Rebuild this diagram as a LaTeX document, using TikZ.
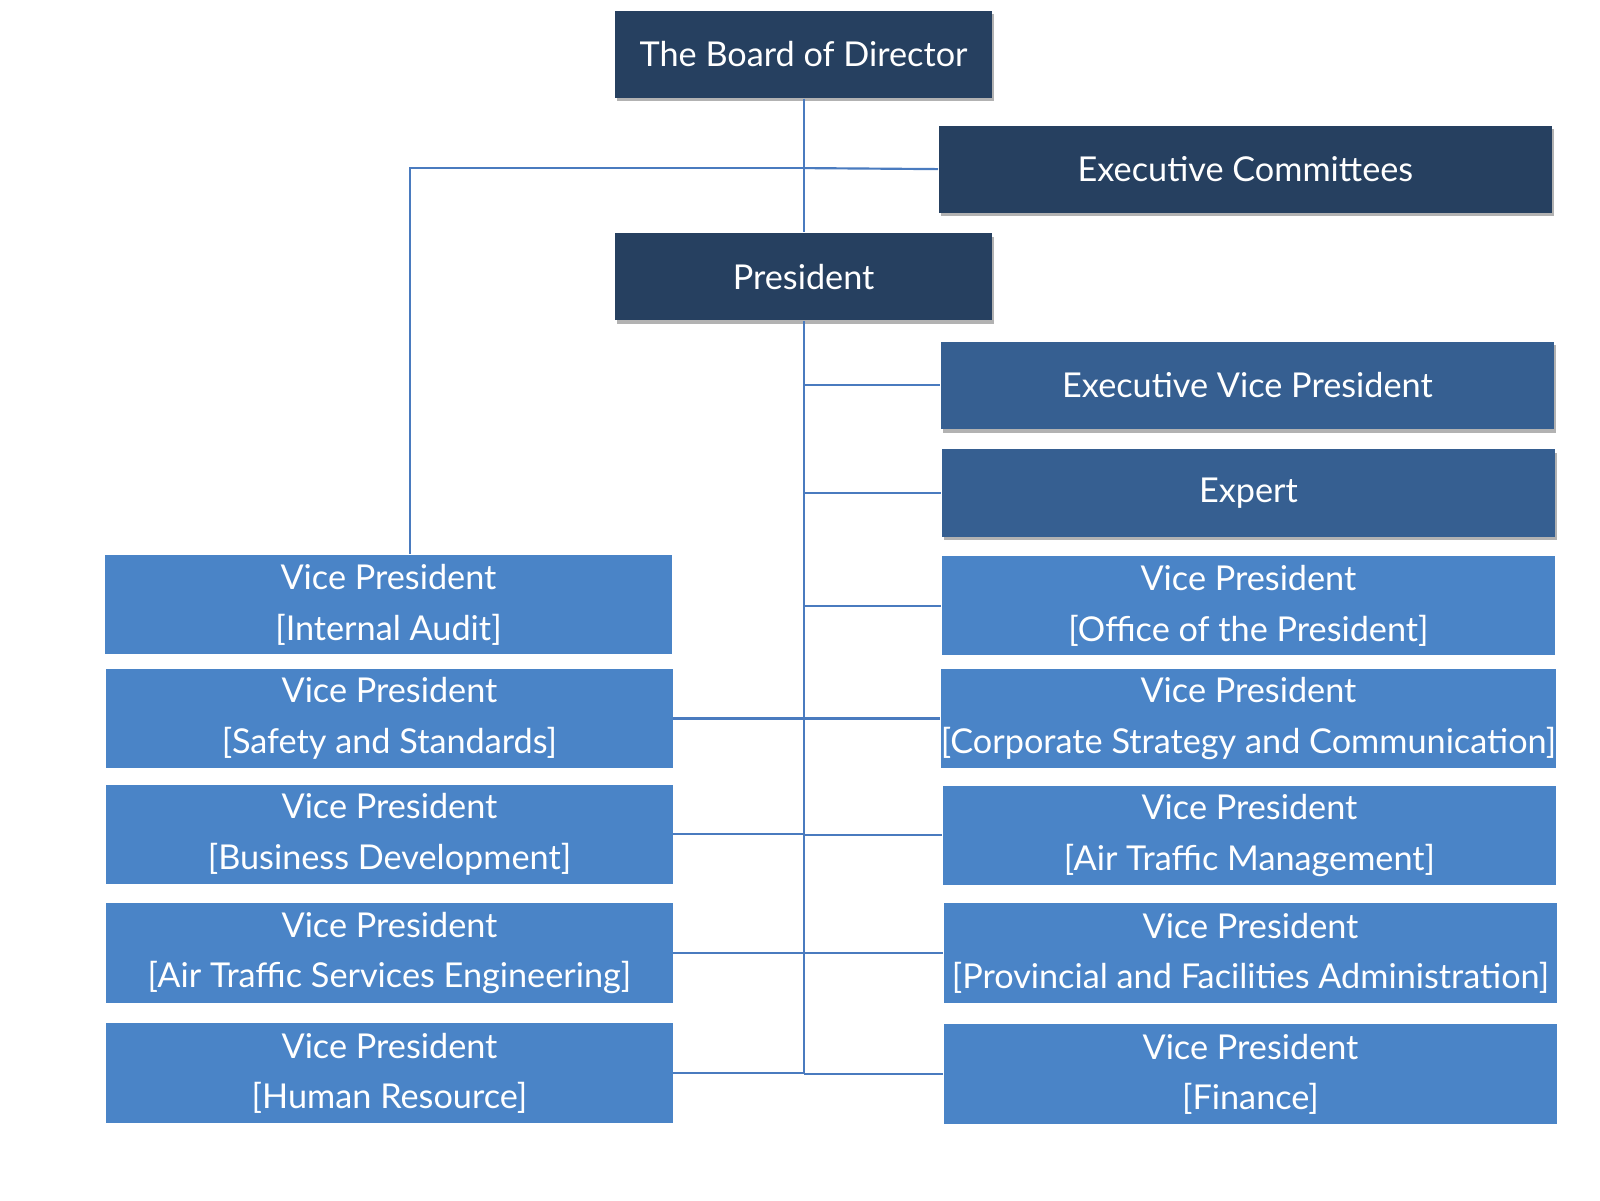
\documentclass[tikz,border=0pt]{standalone}
\usepackage{fontspec}
\setmainfont{Lato}
\usetikzlibrary{positioning}
\definecolor{darkblue}{RGB}{38,64,96}
\definecolor{midblue}{RGB}{54,95,145}
\definecolor{lightblue}{RGB}{74,132,199}
\definecolor{linkblue}{RGB}{74,123,191}
\begin{document}
\begin{tikzpicture}[
    x=0.01cm, y=-0.01cm,
    box/.style={rectangle, text=white, inner sep=0pt, align=center, font=\fontsize{9.5}{14}\selectfont},
    shadowbox/.style={box, append after command={}, drop/.style={}},
    link/.style={draw=linkblue, line width=0.6pt}
]
\useasboundingbox (0,0) rectangle (1561,1171);

% Top level
\fill[gray!60] (602,14) rectangle (970,99);
\node[box, fill=darkblue, minimum width=3.68cm, minimum height=0.85cm] (board) at (784,53) {The Board of Director};
\fill[gray!60] (918,126) rectangle (1516,211);
\node[box, fill=darkblue, minimum width=5.98cm, minimum height=0.85cm] (excom) at (1215,165) {Executive Committees};
\fill[gray!60] (602,231) rectangle (970,316);
\node[box, fill=darkblue, minimum width=3.68cm, minimum height=0.85cm] (pres) at (784,270) {President};

% Second level
\fill[gray!60] (920,337) rectangle (1518,422);
\node[box, fill=midblue, minimum width=5.98cm, minimum height=0.85cm] (evp) at (1217,376) {Executive Vice President};
\fill[gray!60] (921,442) rectangle (1519,527);
\node[box, fill=midblue, minimum width=5.98cm, minimum height=0.85cm] (expert) at (1218,481) {Expert};

% Vice presidents, right column
\node[box, fill=lightblue, minimum width=5.98cm, minimum height=0.97cm] (vpr1) at (1218,591) {Vice President\\{[}Office of the President{]}};
\node[box, fill=lightblue, minimum width=5.98cm, minimum height=0.97cm] (vpr2) at (1218,701) {Vice President\\{[}Corporate Strategy and Communication{]}};
\node[box, fill=lightblue, minimum width=5.98cm, minimum height=0.97cm] (vpr3) at (1219,815) {Vice President\\{[}Air Traffic Management{]}};
\node[box, fill=lightblue, minimum width=5.98cm, minimum height=0.97cm] (vpr4) at (1220,930) {Vice President\\{[}Provincial and Facilities Administration{]}};
\node[box, fill=lightblue, minimum width=5.98cm, minimum height=0.97cm] (vpr5) at (1220,1048) {Vice President\\{[}Finance{]}};

% Vice presidents, left column
\node[box, fill=lightblue, minimum width=5.52cm, minimum height=0.97cm] (vpl1) at (379,590) {Vice President\\{[}Internal Audit{]}};
\node[box, fill=lightblue, minimum width=5.52cm, minimum height=0.97cm] (vpl2) at (380,701) {Vice President\\{[}Safety and Standards{]}};
\node[box, fill=lightblue, minimum width=5.52cm, minimum height=0.97cm] (vpl3) at (380,814) {Vice President\\{[}Business Development{]}};
\node[box, fill=lightblue, minimum width=5.52cm, minimum height=0.97cm] (vpl4) at (380,930) {Vice President\\{[}Air Traffic Services Engineering{]}};
\node[box, fill=lightblue, minimum width=5.52cm, minimum height=0.97cm] (vpl5) at (380,1047) {Vice President\\{[}Human Resource{]}};

% Connectors
\coordinate (trunk) at (784,1048);
\coordinate (split) at (784,164);
\draw[link] (board.south) -- (pres.north);
\draw[link] (pres.south) -- (trunk);
\draw[link] (split) -- (excom.west);
\draw[link] (split) -| (vpl1.north -| 400,0);
\foreach \n in {evp, expert, vpr1, vpr2, vpr3, vpr4, vpr5}
  \draw[link] (\n.west -| trunk) -- (\n.west);
\foreach \n in {vpl2, vpl3, vpl4, vpl5}
  \draw[link] (\n.east) -- (\n.east -| trunk);

\end{tikzpicture}
\end{document}
